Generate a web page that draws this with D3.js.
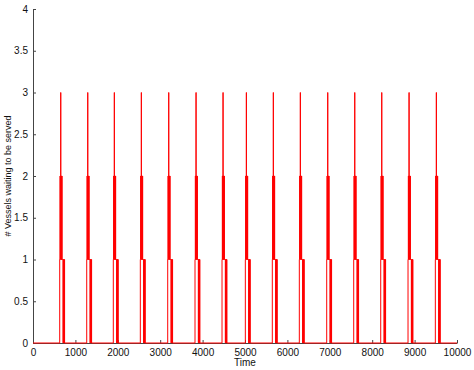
<!DOCTYPE html>
<html><head><meta charset="utf-8">
<script src="https://cdn.jsdelivr.net/npm/d3@7"></script>
<style>
html,body{margin:0;padding:0;background:#fff;}
text{font-family:"Liberation Sans",Arial,Helvetica,sans-serif;}
</style></head>
<body><svg id="c" width="474" height="370"></svg>
<script>
// Times at which the queue peaks at 3 vessels
const spikeTimes = [653, 1290, 1917, 2554, 3200, 3844, 4481, 5031, 5667, 6304, 6950, 7587, 8224, 8868, 9512];
// Queue-length profile around each peak: time offset relative to the peak, and queue length after that instant
const profileOffsets = [-23, -16, -10, -4, 0, 3, 9, 15, 21, 27, 33, 38, 55, 61, 67, 73, 79, 85, 92];
const profileValues  = [  1,   2,   1,  2, 3, 2, 1,  2,  1,  2,  1,  1,  0,  1,  0,  1,  0,  1,  0];
const xTicks = [0,1000,2000,3000,4000,5000,6000,7000,8000,9000,10000];
const yTicks = [0,0.5,1,1.5,2,2.5,3,3.5,4];

// build step series
const series = [{t:0, v:0}];
spikeTimes.forEach(s => profileOffsets.forEach((o,i) => series.push({t:s+o, v:profileValues[i]})));
series.push({t:10000, v:0});

const svg = d3.select("#c");
const x = d3.scaleLinear().domain([0,10000]).range([33,457]);
const y = d3.scaleLinear().domain([0,4]).range([343,9]);

const axisColor = "#444";
const gx = svg.append("g").attr("transform","translate(0,343)")
  .call(d3.axisBottom(x).tickValues(xTicks).tickSizeInner(-3).tickSizeOuter(0).tickPadding(6).tickFormat(d3.format("d")));
const gy = svg.append("g").attr("transform","translate(33,0)")
  .call(d3.axisLeft(y).tickValues(yTicks).tickSizeInner(-3).tickSizeOuter(0).tickPadding(5).tickFormat(d3.format("")));
[gx,gy].forEach(g=>{
  g.select(".domain").attr("stroke",axisColor);
  g.selectAll(".tick line").attr("stroke",axisColor);
  g.selectAll(".tick text").attr("fill","#111").style("font-size","10px");
});

svg.append("path").datum(series)
  .attr("fill","none").attr("stroke","#ff0000").attr("stroke-width",1)
  .attr("d", d3.line().x(d=>x(d.t)).y(d=>y(d.v)).curve(d3.curveStepAfter));

svg.append("text").attr("x",245).attr("y",366).attr("text-anchor","middle")
  .style("font-size","10px").attr("fill","#111").text("Time");
svg.append("text").attr("transform","translate(11,176) rotate(-90)").attr("text-anchor","middle")
  .style("font-size","9px").attr("fill","#111").text("# Vessels waiting to be served");
</script></body></html>
